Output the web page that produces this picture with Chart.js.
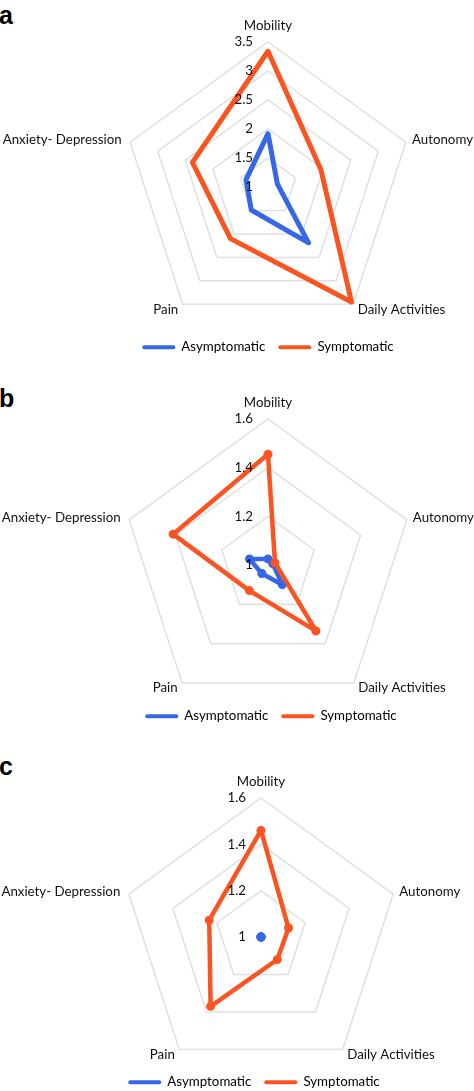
<!DOCTYPE html>
<html><head><meta charset="utf-8">
<script src="https://cdn.jsdelivr.net/npm/chart.js@4.4.1/dist/chart.umd.min.js"></script>
<style>
html,body{margin:0;padding:0;background:#fff;width:474px;height:1091px;overflow:hidden;position:relative;font-family:Lato,'Open Sans',sans-serif;}
canvas{position:absolute;left:0;}
.tag{position:absolute;left:-1px;font:bold 25px 'Liberation Sans',Arial,sans-serif;color:#000;line-height:1;}
.legend{position:absolute;display:flex;align-items:center;font-size:13.3px;color:#000;white-space:nowrap;transform:translate(-50%,-50%);line-height:1;}
.sw{display:inline-block;width:33px;height:4px;border-radius:2px;margin-right:6px;}
.item{display:flex;align-items:center;}
.item + .item{margin-left:13px;}
</style></head>
<body>
<div class="tag" style="top:3px">a</div>
<div class="tag" style="top:386px">b</div>
<div class="tag" style="top:754px">c</div>
<canvas id="ca" width="474" height="360" style="top:0;width:474px;height:360px"></canvas>
<canvas id="cb" width="474" height="370" style="top:360px;width:474px;height:370px"></canvas>
<canvas id="cc" width="474" height="361" style="top:730px;width:474px;height:361px"></canvas>
<div id="la" class="legend" style="left:268px;top:347px"></div>
<div id="lb" class="legend" style="left:271px;top:716px"></div>
<div id="lc" class="legend" style="left:254px;top:1082px"></div>
<script>
const categories = ["Mobility", "Autonomy", "Daily Activities", "Pain", "Anxiety- Depression"];
const seriesNames = ["Asymptomatic", "Symptomatic"];

const aAsymptomatic = [1.92, 1.17, 2.19, 1.49, 1.40];
const aSymptomatic  = [3.34, 1.96, 3.45, 2.10, 2.37];
const bAsymptomatic = [1.025, 1.02, 1.10, 1.043, 1.08];
const bSymptomatic  = [1.455, 1.03, 1.335, 1.13, 1.41];
const cAsymptomatic = [1, 1, 1, 1, 1];
const cSymptomatic  = [1.46, 1.125, 1.12, 1.37, 1.235];

const aTicks = [1, 1.5, 2, 2.5, 3, 3.5];
const bTicks = [1, 1.2, 1.4, 1.6];
const cTicks = [1, 1.2, 1.4, 1.6];

const BLUE = '#3568e6';
const ORANGE = '#fb5420';
const FONT = "Lato, 'Open Sans', sans-serif";

// offsets of category labels relative to outer vertex
const labelOffsets = [
  {align:'center', dx:0, dy:-16.5},
  {align:'left', dx:6, dy:-2.5},
  {align:'left', dx:4.5, dy:5},
  {align:'right', dx:-4.5, dy:5},
  {align:'right', dx:-8.5, dy:-2.5}
];

const textPlugin = {
  id: 'radarText',
  afterDraw(chart) {
    const s = chart.scales.r;
    const ctx = chart.ctx;
    ctx.save();
    ctx.fillStyle = '#111';
    ctx.font = '13.3px ' + FONT;
    ctx.textBaseline = 'middle';
    ctx.textAlign = 'right';
    s.ticks.forEach(t => {
      const d = s.getDistanceFromCenterForValue(t.value);
      ctx.fillText(String(Number(t.value.toFixed(2))), s.xCenter - 15, s.yCenter - d);
    });
    categories.forEach((lab, i) => {
      const p = s.getPointPosition(i, s.drawingArea);
      const o = labelOffsets[i];
      ctx.textAlign = o.align;
      ctx.fillText(lab, p.x + o.dx, p.y + o.dy);
    });
    ctx.restore();
  }
};

function makeChart(id, asym, sym, ticks, pad, lineW, ptR) {
  const step = ticks[1] - ticks[0];
  return new Chart(document.getElementById(id), {
    type: 'radar',
    data: {
      labels: categories,
      datasets: [
        {label: seriesNames[0], data: asym, borderColor: BLUE, backgroundColor: BLUE,
         borderWidth: lineW, pointRadius: ptR, pointBorderWidth: ptR ? 3 : 0,
         pointBackgroundColor: BLUE, pointBorderColor: BLUE, fill: false, order: 1,
         borderJoinStyle: 'round'},
        {label: seriesNames[1], data: sym, borderColor: ORANGE, backgroundColor: ORANGE,
         borderWidth: lineW, pointRadius: ptR, pointBorderWidth: ptR ? 3 : 0,
         pointBackgroundColor: ORANGE, pointBorderColor: ORANGE, fill: false, order: 0,
         borderJoinStyle: 'round'}
      ]
    },
    options: {
      responsive: false,
      maintainAspectRatio: false,
      animation: false,
      layout: {padding: pad},
      plugins: {legend: {display: false}, tooltip: {enabled: false}},
      elements: {line: {tension: 0}},
      scales: {
        r: {
          min: ticks[0],
          max: ticks[ticks.length - 1],
          ticks: {display: false, stepSize: step},
          pointLabels: {display: false},
          angleLines: {display: false},
          grid: {color: '#e0e0e0', lineWidth: 1.5}
        }
      }
    },
    plugins: [textPlugin]
  });
}

makeChart('ca', aAsymptomatic, aSymptomatic, aTicks, {left:123, right:61, top:42, bottom:28}, 5, 0);
makeChart('cb', bAsymptomatic, bSymptomatic, bTicks, {left:122, right:60, top:59, bottom:19}, 4.5, 3);
makeChart('cc', cAsymptomatic, cSymptomatic, cTicks, {left:122, right:74, top:68, bottom:15}, 4.5, 3);

function buildLegend(id) {
  const el = document.getElementById(id);
  [BLUE, ORANGE].forEach((c, i) => {
    const it = document.createElement('div');
    it.className = 'item';
    const sw = document.createElement('span');
    sw.className = 'sw';
    sw.style.background = c;
    const tx = document.createElement('span');
    tx.textContent = seriesNames[i];
    it.appendChild(sw); it.appendChild(tx);
    el.appendChild(it);
  });
}
buildLegend('la'); buildLegend('lb'); buildLegend('lc');
</script>
</body></html>
